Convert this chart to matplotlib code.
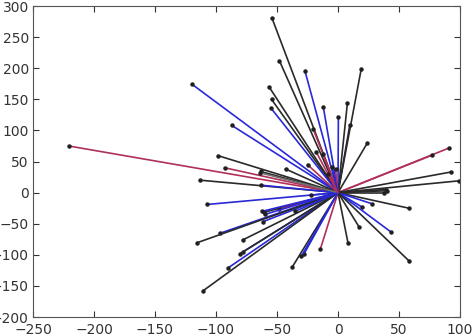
import matplotlib.pyplot as plt
import numpy as np

# endpoints of the segments drawn from the origin
end_x = [-54, -48, -27, 19, -119.5, -56.5, -54.5, -55, -12, 7.7, 0.3, 9.6, -87, 23.8,
         -220.7, -98.4, -93, -43, -63.4, -113, -63.4, 91.3, 76.8, 92.2, 99.3, 39, 38,
         58, -107, -22.4, 28, 20, -60.7, -48.7, -61.5, -97, -115.4, -78, -78.2, -90,
         -110.5, -37.5, -28, -14.5, 8.2, 17.5, 43.2, 58, -17.8, -20.5, -2, -12,
         -60, -62, -80, -30, -64, -25, -5, 40, -35, -8]
end_y = [280, 212, 195, 198.5, 174, 170, 150, 136, 137, 144, 122, 108, 108, 79,
         75, 59.5, 40, 38, 34, 20, 12, 72, 60, 33, 19, 5, 0,
         -25, -19, -4, -18, -23.6, -31.6, -27, -46.7, -65.5, -80.5, -76, -95.5, -121,
         -157.7, -119.6, -99, -91, -81, -56, -63, -109.4, 65, 103, 38, 62,
         -35, -30, -98, -102, 32, 45, 42, 3, -30, 30]
kind = ['k', 'k', 'b', 'k', 'b', 'k', 'k', 'b', 'b', 'k', 'b', 'k', 'b', 'k',
        'r', 'k', 'r', 'k', 'k', 'k', 'b', 'r', 'r', 'k', 'k', 'k', 'k',
        'k', 'b', 'b', 'b', 'b', 'k', 'r', 'b', 'b', 'k', 'k', 'b', 'b',
        'k', 'k', 'b', 'r', 'k', 'k', 'b', 'k', 'r', 'r', 'r', 'r',
        'b', 'b', 'k', 'b', 'g', 'r', 'b', 'k', 'b', 'r']

colors = {'k': '#2a2a2a', 'b': '#2828d8', 'r': '#b03058', 'g': '#707070'}

fig = plt.figure(figsize=(4.74, 3.36), dpi=100)
ax = fig.add_axes([0.0696, 0.0565, 0.9009, 0.9255])

for x, y, c in zip(end_x, end_y, kind):
    ax.plot([0, x], [0, y], color=colors[c], linewidth=1.2)
    ax.plot(x, y, 'o', color='#202020', markersize=2.2)

ax.set_xlim(-250, 100)
ax.set_ylim(-200, 300)
ax.set_xticks(np.arange(-250, 101, 50))
ax.set_yticks(np.arange(-200, 301, 50))
ax.tick_params(direction='in', top=True, right=True, labelsize=10,
               colors='#333333', length=4)
ax.tick_params(axis='x', pad=4.5)
ax.tick_params(axis='y', pad=3)
for s in ax.spines.values():
    s.set_color('#555555')

plt.savefig('out.png', dpi=100)
